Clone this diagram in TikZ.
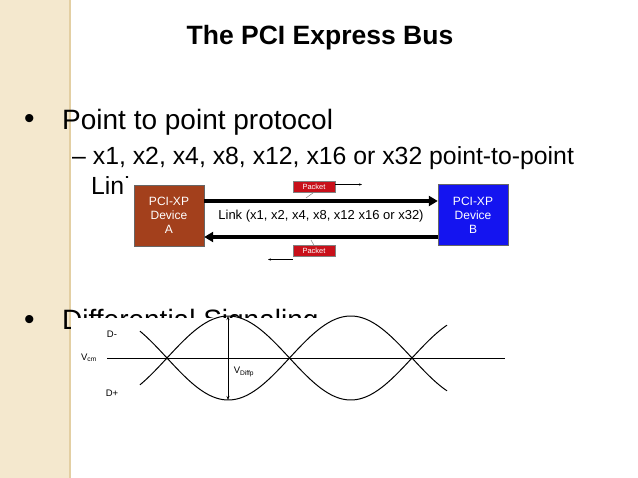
\documentclass[tikz,border=0pt]{standalone}
\usepackage{fontspec}
\setmainfont{Liberation Sans}
\usetikzlibrary{arrows.meta}
\definecolor{beige}{HTML}{F4E8CE}
\definecolor{tan}{HTML}{E3CFA3}
\definecolor{devA}{HTML}{A3401C}
\definecolor{devB}{HTML}{1414F0}
\definecolor{pkt}{HTML}{C8101A}
\tikzset{
 dev/.style={draw=black!60,minimum width=70pt,minimum height=61pt,inner sep=0pt,text=white,align=center,font=\fontsize{12}{14}\selectfont},
 pkt/.style={fill=pkt,draw=black!50,minimum width=42pt,minimum height=11pt,inner sep=0pt,text=white,font=\fontsize{7.5}{8}\selectfont},
 big/.style={-{Triangle[length=9pt,width=10pt]},line width=4pt},
 small/.style={-{Stealth[length=3pt]},line width=0.6pt},
 lbl/.style={font=\fontsize{9.5}{10}\selectfont,inner sep=0pt},
 txt/.style={anchor=west,inner sep=0pt},
}
\begin{document}
\begin{tikzpicture}[x=1pt,y=-1pt]
\useasboundingbox (0,0) rectangle (638,478);
\fill[white] (0,0) rectangle (638,478);
\fill[beige] (0,0) rectangle (70,478);
\draw[tan,line width=1.5pt] (70,0) -- (70,478);
\node[font=\bfseries\fontsize{26.5}{30}\selectfont] (title) at (320,38) {The PCI Express Bus};
\node[txt,font=\fontsize{30}{32}\selectfont] (d1) at (24,122) {•};
\node[txt,font=\fontsize{28}{32}\selectfont] (b1) at (62,122) {Point to point protocol};
\node[txt,font=\fontsize{24.8}{28}\selectfont] (s1) at (72,158) {– x1, x2, x4, x8, x12, x16 or x32 point-to-point};
\node[txt,font=\fontsize{24.8}{28}\selectfont] (s2) at (91,186) {Link};
\node[txt,font=\fontsize{30}{32}\selectfont] (d2) at (24,322) {•};
\node[txt,font=\fontsize{28}{32}\selectfont] (b2) at (62,322) {Differential Signaling};
% link diagram
\fill[white] (125,178) rectangle (520,264);
\node[dev,fill=devA] (A) at (169,215.5) {PCI-XP\\Device\\A};
\node[dev,fill=devB] (B) at (473,215) {PCI-XP\\Device\\B};
\coordinate (t1) at (204,201);
\coordinate (t2) at (238,237);
\draw[big] (A.east|-t1) -- (B.west|-t1);
\draw[big] (B.west|-t2) -- (A.east|-t2);
\node[font=\fontsize{13}{15}\selectfont] (lnk) at (321,216) {Link (x1, x2, x4, x8, x12 x16 or x32)};
\node[pkt] (p1) at (314,186.5) {Packet};
\node[pkt] (p2) at (314,251) {Packet};
\coordinate (p1e) at (362,184.5);
\coordinate (p2e) at (268,259.5);
\draw[small] (p1.east|-p1e) -- (p1e);
\draw[small] (p2.west|-p2e) -- (p2e);
\draw[black!50,line width=0.5pt] (p1.south) -- (306,198);
\draw[black!50,line width=0.5pt] (p2.north) -- (311,240);
% signaling
\fill[white] (71,318) rectangle (600,415);
\draw[line width=0.9pt] (107,358) -- (505,358);
\draw[line width=1pt,domain=140:447,samples=120,smooth] plot (\x,{358-42*sin((\x-167)/122.5*180)});
\draw[line width=1pt,domain=140:447,samples=120,smooth] plot (\x,{358+42*sin((\x-167)/122.5*180)});
\coordinate (vt) at (228,316);
\coordinate (vb) at (228,400);
\draw[{Stealth[length=4pt]}-{Stealth[length=4pt]},line width=0.7pt] (vt) -- (vb);
\node[lbl] (dm) at (112,334) {D-};
\node[lbl] (vcm) at (89,358) {V\textsubscript{cm}};
\node[lbl] (vd) at (244,372) {V\textsubscript{Diffp}};
\node[lbl] (dp) at (112,393) {D+};
\end{tikzpicture}
\end{document}
